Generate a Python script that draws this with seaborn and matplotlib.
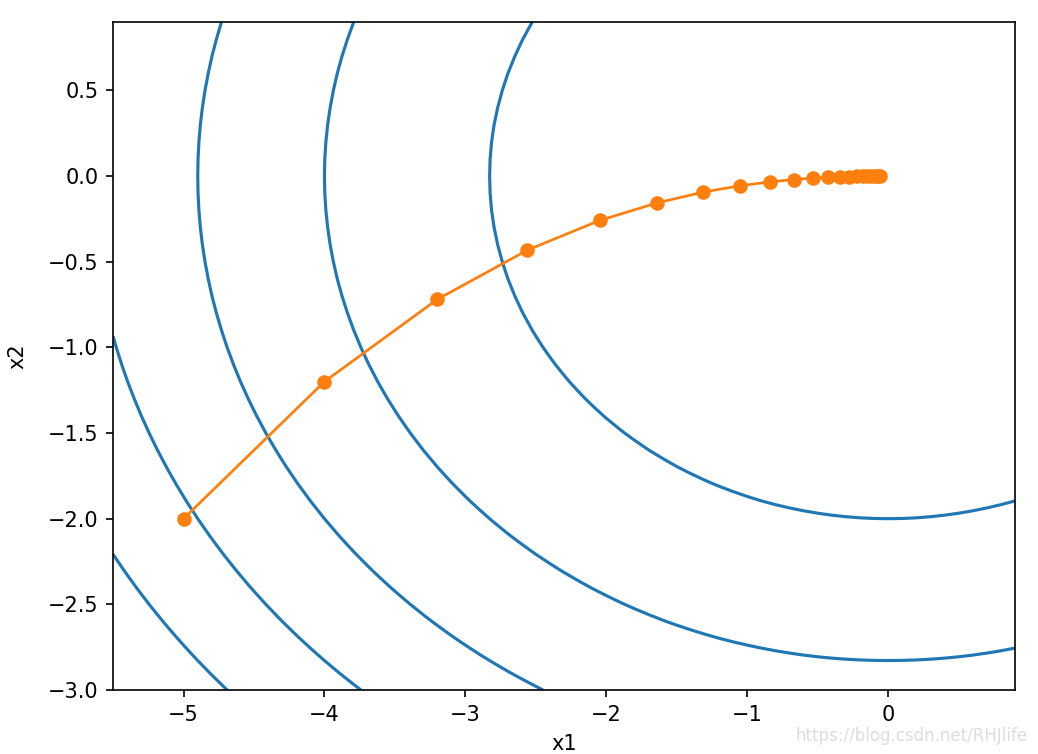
import numpy as np
import pandas as pd
import seaborn as sns
import matplotlib
matplotlib.use("Agg")
import matplotlib.pyplot as plt

# gradient descent trace
x1_path = [-5.0, -4.0, -3.2, -2.56, -2.048, -1.638, -1.311, -1.049, -0.839, -0.671,
           -0.537, -0.429, -0.344, -0.275, -0.22, -0.176, -0.141, -0.113, -0.09, -0.072, -0.058]
x2_path = [-2.0, -1.2, -0.72, -0.432, -0.259, -0.156, -0.093, -0.056, -0.034, -0.02,
           -0.012, -0.007, -0.004, -0.003, -0.002, -0.001, -0.001, 0.0, 0.0, 0.0, 0.0]

# contour surface f = x1^2 + 2*x2^2 and the levels that show
contour_levels = [8, 16, 24, 32, 40]
x1_grid = np.arange(-5.5, 1.0, 0.1)
x2_grid = np.arange(-3.0, 1.0, 0.1)

path = pd.DataFrame({"x1": x1_path, "x2": x2_path})

fig = plt.figure(figsize=(1038 / 150, 754 / 150), dpi=150)
ax = fig.add_axes([0.1089, 0.0849, 0.869, 0.886])

g1, g2 = np.meshgrid(x1_grid, x2_grid)
ax.contour(g1, g2, g1 ** 2 + 2 * g2 ** 2, levels=contour_levels, colors="#1f77b4")

sns.lineplot(data=path, x="x1", y="x2", sort=False, marker="o", markersize=7,
             markeredgewidth=0, color="#ff7f0e", linewidth=1.3, ax=ax)

ax.set_xlim(-5.5, 0.9)
ax.set_ylim(-3.0, 0.9)
ax.set_xticks([-5, -4, -3, -2, -1, 0])
ax.set_xlabel("x1", labelpad=4.5)
ax.set_ylabel("x2", labelpad=10)

fig.text(0.99, 0.012, "https://blog.csdn.net/RHJlife", ha="right", va="bottom",
         color="#dddddd", fontsize=8)

fig.savefig("out.png", dpi=150)
